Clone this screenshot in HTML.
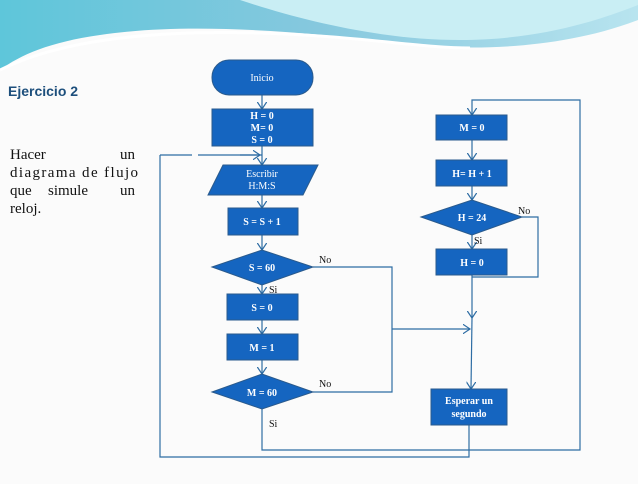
<!DOCTYPE html>
<html><head><meta charset="utf-8"><style>
body{margin:0;width:638px;height:479px;overflow:hidden;background:#fbfbfb;font-family:"Liberation Serif",serif}
</style></head><body>
<svg width="638" height="479" viewBox="0 0 638 479" xmlns="http://www.w3.org/2000/svg">
<defs>
<linearGradient id="g1" x1="0" y1="0" x2="1" y2="0"><stop offset="0" stop-color="#5ec6da"/><stop offset="0.5" stop-color="#86c8de"/><stop offset="1" stop-color="#b8e4ef"/></linearGradient>
<marker id="a" markerWidth="8" markerHeight="8" refX="6" refY="4" orient="auto"><path d="M0,0 L6,4 L0,8" fill="none" stroke="#2e6da4" stroke-width="1"/></marker>
</defs>
<path d="M0,0 H638 V20 C560,50 470,50 420,45 C330,35 200,20 100,35 C50,42 20,55 0,70 Z" fill="url(#g1)"/>
<path d="M240,0 C300,20 380,40 460,40 C540,40 600,20 638,5 V0 Z" fill="#c9eef4"/>
<path d="M0,70 C60,40 150,30 260,33 C360,36 420,48 470,48" fill="none" stroke="#fff" stroke-width="3"/>
<text x="8" y="96" font-family="Liberation Sans,sans-serif" font-weight="bold" font-size="14" fill="#1d4f7c">Ejercicio 2</text>
<g font-size="15" fill="#111">
<text x="10" y="159">Hacer</text><text x="120" y="159">un</text>
<text x="10" y="177" textLength="128" lengthAdjust="spacing">diagrama de flujo</text>
<text x="10" y="195">que</text><text x="48" y="195">simule</text><text x="120" y="195">un</text>
<text x="10" y="213">reloj.</text>
</g>
<g fill="none" stroke="#2e6da4" stroke-width="1.2">
<path d="M262,95 V109" marker-end="url(#a)"/>
<path d="M262,146 V165" marker-end="url(#a)"/>
<path d="M160,155 H192 M198,155 H262" /><path d="M240,155 H260" marker-end="url(#a)"/>
<path d="M262,195 V208" marker-end="url(#a)"/>
<path d="M262,235 V250" marker-end="url(#a)"/>
<path d="M262,285 V294" marker-end="url(#a)"/>
<path d="M262,320 V334" marker-end="url(#a)"/>
<path d="M262,360 V374" marker-end="url(#a)"/>
<path d="M313,267 H392 V392 H313"/>
<path d="M392,329 H470" marker-end="url(#a)"/>
<path d="M262,409 V450 H580 V100 H472 V115" marker-end="url(#a)"/>
<path d="M472,140 V160" marker-end="url(#a)"/>
<path d="M472,186 V200" marker-end="url(#a)"/>
<path d="M472,235 V249" marker-end="url(#a)"/>
<path d="M522,217 H538 V277 H472"/>
<path d="M472,275 V318" marker-end="url(#a)"/>
<path d="M472,318 L471,389" marker-end="url(#a)"/>
<path d="M469,425 V457 H160 V155"/>
</g>
<g fill="#1565c0" stroke="#2a5a8c" stroke-width="1">
<rect x="212" y="60" width="101" height="35" rx="17"/>
<rect x="212" y="109" width="101" height="37"/>
<path d="M223,165 H318 L303,195 H208 Z"/>
<rect x="228" y="208" width="70" height="27"/>
<path d="M212,267 L262,250 L313,267 L262,285 Z"/>
<rect x="227" y="294" width="71" height="26"/>
<rect x="227" y="334" width="71" height="26"/>
<path d="M212,392 L262,374 L313,392 L262,409 Z"/>
<rect x="436" y="115" width="71" height="25"/>
<rect x="436" y="160" width="71" height="26"/>
<path d="M421,217 L472,200 L522,217 L472,235 Z"/>
<rect x="436" y="249" width="71" height="26"/>
<rect x="431" y="389" width="76" height="36"/>
</g>
<g fill="#fff" font-size="10" text-anchor="middle" font-weight="bold">
<text x="262" y="81" font-weight="normal">Inicio</text>
<text x="262" y="119">H = 0</text><text x="262" y="131">M= 0</text><text x="262" y="143">S = 0</text>
<text x="262" y="177" font-weight="normal">Escribir</text><text x="262" y="189" font-weight="normal">H:M:S</text>
<text x="262" y="225">S = S + 1</text>
<text x="262" y="271">S = 60</text>
<text x="262" y="311">S = 0</text>
<text x="262" y="351">M = 1</text>
<text x="262" y="396">M = 60</text>
<text x="472" y="131">M = 0</text>
<text x="472" y="177">H= H + 1</text>
<text x="472" y="221">H = 24</text>
<text x="472" y="266">H = 0</text>
<text x="469" y="404">Esperar un</text><text x="469" y="417">segundo</text>
</g>
<g font-size="10" fill="#111">
<text x="319" y="263">No</text><text x="269" y="293">Si</text>
<text x="319" y="387">No</text><text x="269" y="427">Si</text>
<text x="518" y="214">No</text><text x="474" y="244">Si</text>
</g>
</svg>
</body></html>
